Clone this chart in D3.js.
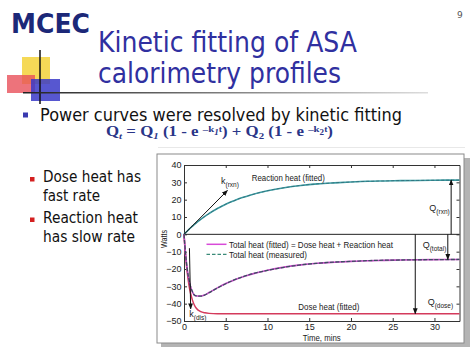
<!DOCTYPE html>
<html><head><meta charset="utf-8">
<script src="https://cdn.jsdelivr.net/npm/d3@7"></script>
<style>html,body{margin:0;padding:0;background:#fff;}svg{display:block;}</style>
</head><body>
<svg id="c" width="474" height="355"></svg>
<script>
// ---- data ----
const time = [0,0.1,0.2,0.3,0.4,0.6,0.8,1,1.25,1.5,2,2.5,3,4,5,6,7,8,10,12,14,16,18,20,22,24,26,28,30,33];
const reactionHeat = [0,0.5,1.0,1.5,1.9,2.9,3.8,4.7,5.7,6.7,8.6,10.4,12.0,14.9,17.4,19.4,21.2,22.7,25.1,26.9,28.2,29.1,29.7,30.2,30.6,30.8,31.0,31.1,31.2,31.3];
const doseHeat = [0,-7.0,-13.0,-18.2,-22.6,-29.4,-34.3,-37.8,-40.9,-42.8,-44.6,-45.3,-45.6,-45.8,-45.8,-45.8,-45.8,-45.8,-45.8,-45.8,-45.8,-45.8,-45.8,-45.8,-45.8,-45.8,-45.8,-45.8,-45.8,-45.8];
const totalFitted = [0,-6.5,-12.0,-16.7,-20.7,-26.5,-30.5,-33.1,-35.2,-35.6,-35.6,-34.9,-33.6,-30.9,-28.4,-26.4,-24.6,-23.1,-20.7,-18.9,-17.6,-16.7,-16.1,-15.6,-15.2,-15.0,-14.8,-14.7,-14.6,-14.5];
const totalMeasured = [0,-6.3,-11.8,-16.5,-20.5,-26.3,-30.3,-33.0,-35.0,-35.5,-35.7,-35.0,-33.7,-31.0,-28.5,-26.3,-24.5,-23.0,-20.8,-19.0,-17.6,-16.7,-16.0,-15.6,-15.2,-14.9,-14.8,-14.7,-14.6,-14.5];
const xTicks = [0,5,10,15,20,25,30];
const yTicks = [40,30,20,10,0,-10,-20,-30,-40,-50];

const svg = d3.select("#c");
const navy = "#3030a0";

// ---- slide decoration ----
svg.append("rect").attr("x",22).attr("y",57).attr("width",28).attr("height",27).attr("fill","#f3d23a").attr("opacity",0.85);
svg.append("rect").attr("x",7).attr("y",75).attr("width",28).attr("height",18).attr("fill","#e8505a").attr("opacity",0.8);
svg.append("rect").attr("x",31).attr("y",79).attr("width",29).attr("height",22).attr("fill","#3a3ac8").attr("opacity",0.85);
svg.append("line").attr("x1",40).attr("x2",40).attr("y1",50).attr("y2",104).attr("stroke","#111").attr("stroke-width",1.5);
const defs = svg.append("defs");
const grad = defs.append("linearGradient").attr("id","hl");
grad.append("stop").attr("offset","0%").attr("stop-color","#222");
grad.append("stop").attr("offset","100%").attr("stop-color","#ddd");
svg.append("rect").attr("x",23).attr("y",92).attr("width",405).attr("height",1.5).attr("fill","url(#hl)");

svg.append("text").attr("x",11).attr("y",33).attr("font-family","DejaVu Sans").attr("font-weight",900)
  .attr("font-size",27).attr("fill","#1c2878").attr("textLength",79).attr("lengthAdjust","spacingAndGlyphs").text("MCEC");
svg.append("text").attr("x",457).attr("y",18).attr("font-family","DejaVu Sans").attr("font-size",9).attr("fill","#555").text("9");

svg.append("text").attr("x",98).attr("y",51.5).attr("font-family","DejaVu Sans").attr("font-size",28)
  .attr("fill",navy).attr("textLength",259).attr("lengthAdjust","spacingAndGlyphs").text("Kinetic fitting of ASA");
svg.append("text").attr("x",98).attr("y",83).attr("font-family","DejaVu Sans").attr("font-size",28)
  .attr("fill",navy).attr("textLength",243).attr("lengthAdjust","spacingAndGlyphs").text("calorimetry profiles");

svg.append("rect").attr("x",23).attr("y",112.5).attr("width",5).attr("height",5).attr("fill","#3a3ab0");
svg.append("text").attr("x",40).attr("y",120.5).attr("font-family","DejaVu Sans").attr("font-size",17.5)
  .attr("fill","#111").attr("textLength",362).attr("lengthAdjust","spacingAndGlyphs").text("Power curves were resolved by kinetic fitting");

// formula
const fy = 136, fs = 14;
const f = svg.append("text").attr("x",106).attr("y",fy).attr("font-family","Liberation Serif").attr("font-weight","bold")
  .attr("font-size",fs).attr("fill","#2a3588").attr("textLength",227).attr("lengthAdjust","spacingAndGlyphs");
const parts = [
  ["Q",0,fs,"normal"],["t",2.5,9,"italic"],[" = Q",0,fs,"normal"],["1",2.5,9,"italic"],[" (1 - e ",0,fs,"normal"],
  ["\u2013k",-4,9,"normal"],["1",-1.5,7.5,"italic"],["t",-4,8,"normal"],[") + Q",0,fs,"normal"],["2",2.5,9,"normal"],
  [" (1 - e ",0,fs,"normal"],["\u2013k",-4,9,"normal"],["2",-1.5,7.5,"normal"],["t",-4,8,"normal"],[")",0,fs,"normal"]];
parts.forEach(p=>f.append("tspan").attr("y",fy+p[1]).attr("font-size",p[2]).attr("font-style",p[3]).text(p[0]));

svg.append("line").attr("x1",158).attr("x2",465).attr("y1",147.5).attr("y2",147.5).attr("stroke","#e8e8e8");

// left bullets
const lb = [["Dose heat has",182,true,98],["fast rate",200.5,false,57],["Reaction heat",222.5,true,95],["has slow rate",241.5,false,92]];
lb.forEach(d=>{
  if(d[2]) svg.append("rect").attr("x",30).attr("y",d[1]-5).attr("width",4.5).attr("height",4.5).attr("fill","#d42020");
  svg.append("text").attr("x",43).attr("y",d[1]).attr("font-family","DejaVu Sans").attr("font-size",15.5)
    .attr("fill","#111").attr("textLength",d[3]).attr("lengthAdjust","spacingAndGlyphs").text(d[0]);
});

// ---- chart frame ----
svg.append("rect").attr("x",161).attr("y",158).attr("width",309).attr("height",189).attr("fill","#b4b4b4");
svg.append("rect").attr("x",157).attr("y",154).attr("width",307).attr("height",189).attr("fill","#fff").attr("stroke","#8a8a8a").attr("stroke-width",1);

const x = d3.scaleLinear().domain([0,33]).range([184,459.5]);
const y = d3.scaleLinear().domain([-50,40]).range([321,165]);

const font = "Liberation Sans";
function styleAxis(g){ g.selectAll("text").attr("font-family",font).attr("font-size",9).attr("fill","#222");
  g.selectAll("line").attr("stroke","#333"); g.select(".domain").attr("stroke","#333"); }

svg.append("g").attr("transform",`translate(0,${y(-50)})`).call(d3.axisBottom(x).tickValues(xTicks).tickSizeInner(-3).tickSizeOuter(0).tickPadding(2.5)).call(styleAxis);
svg.append("g").attr("transform",`translate(0,${y(40)})`).call(d3.axisTop(x).tickValues(xTicks).tickSizeInner(-3).tickSizeOuter(0).tickFormat("")).call(styleAxis);
svg.append("g").attr("transform",`translate(${x(0)},0)`).call(d3.axisLeft(y).tickValues(yTicks).tickSizeInner(-3).tickSizeOuter(0).tickPadding(2.5)).call(styleAxis);
svg.append("g").attr("transform",`translate(${x(33)},0)`).call(d3.axisRight(y).tickValues(yTicks).tickSizeInner(-3).tickSizeOuter(0).tickFormat("")).call(styleAxis);

function txt(xp,yp,s,size,len,anchor){
  const t = svg.append("text").attr("x",xp).attr("y",yp).attr("font-family",font).attr("font-size",size).attr("fill","#222")
    .attr("text-anchor",anchor||"start").text(s);
  if(len) t.attr("textLength",len).attr("lengthAdjust","spacingAndGlyphs");
  return t;
}
txt(321.7,340.5,"Time, mins",9,38,"middle");
svg.append("text").attr("transform",`translate(166.5,239) rotate(-90)`).attr("text-anchor","middle").attr("font-family",font)
  .attr("font-size",8.5).attr("fill","#222").attr("textLength",18).attr("lengthAdjust","spacingAndGlyphs").text("Watts");

// zero line
svg.append("line").attr("x1",x(0)).attr("x2",x(33)).attr("y1",y(0)).attr("y2",y(0)).attr("stroke","#222").attr("stroke-width",1);

// curves
const line = vals => d3.line().x((d,i)=>x(time[i])).y(d=>y(d)).curve(d3.curveMonotoneX)(vals);
svg.append("path").attr("d",line(reactionHeat)).attr("fill","none").attr("stroke","#3a9aa0").attr("stroke-width",1.6);
svg.append("path").attr("d",line(reactionHeat)).attr("fill","none").attr("stroke","#2c5a6a").attr("stroke-width",0.6).attr("stroke-dasharray","3,2");
svg.append("path").attr("d",line(doseHeat)).attr("fill","none").attr("stroke","#d43a5c").attr("stroke-width",1.5);
svg.append("path").attr("d",line(totalFitted)).attr("fill","none").attr("stroke","#c84ac8").attr("stroke-width",1.6);
svg.append("path").attr("d",line(totalMeasured)).attr("fill","none").attr("stroke","#3d4d62").attr("stroke-width",1.3).attr("stroke-dasharray","4,1.5");

// arrows
defs.append("marker").attr("id","ah").attr("viewBox","0 0 10 10").attr("refX",9).attr("refY",5)
  .attr("markerWidth",6).attr("markerHeight",6).attr("orient","auto-start-reverse")
  .append("path").attr("d","M0,1 L10,5 L0,9 Z").attr("fill","#111");
function arrow(x1,y1,x2,y2){ svg.append("line").attr("x1",x1).attr("y1",y1).attr("x2",x2).attr("y2",y2)
  .attr("stroke","#111").attr("stroke-width",1).attr("marker-end","url(#ah)"); }
arrow(x(0),y(0),x(5.2),y(25.3));
arrow(x(0.65),y(-8),x(0.8),y(-43));
arrow(x(32),y(0),x(32),y(31.3));
arrow(x(31.6),y(0),x(31.6),y(-14.5));
arrow(x(27.7),y(0),x(27.7),y(-45.8));

// annotation labels
function lbl(xp,yp,main,sub){
  const t = svg.append("text").attr("x",xp).attr("y",yp).attr("font-family",font).attr("font-size",9).attr("fill","#222");
  t.append("tspan").text(main);
  t.append("tspan").attr("dy",2.5).attr("font-size",6.5).text(sub);
}
txt(288.3,181,"Reaction heat (fitted)",9,73,"middle");
txt(328.8,310,"Dose heat (fitted)",9,61,"middle");
lbl(221,184,"k","(rxn)");
lbl(189.3,317,"k","(dis)");
lbl(429.3,211,"Q","(rxn)");
lbl(422.7,248,"Q","(total)");
lbl(427.7,305,"Q","(dose)");

// legend
svg.append("line").attr("x1",206.5).attr("x2",226.5).attr("y1",244.3).attr("y2",244.3).attr("stroke","#d84ad8").attr("stroke-width",1.5);
svg.append("line").attr("x1",206.5).attr("x2",226.5).attr("y1",254.3).attr("y2",254.3).attr("stroke","#3a8a78").attr("stroke-width",1.2).attr("stroke-dasharray","3.5,2");
txt(229,247.5,"Total heat (fitted) = Dose heat + Reaction heat",9,164);
txt(229,257.5,"Total heat (measured)",9,78);
</script>
</body></html>
